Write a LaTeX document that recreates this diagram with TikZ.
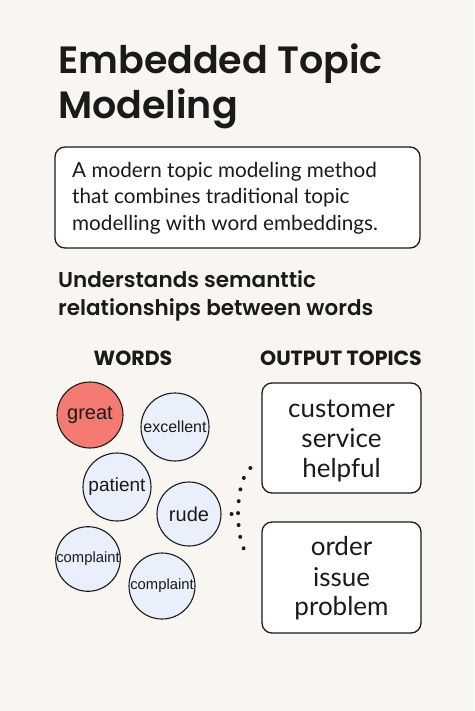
\documentclass[tikz,border=0pt]{standalone}
\usepackage{fontspec}
\setmainfont{Lato}
\newfontfamily\titlefont{Poppins}[BoldFont={Poppins SemiBold}]
\newfontfamily\headfont{Poppins}
\newfontfamily\arialf{Liberation Sans}
\usetikzlibrary{decorations.markings}
\definecolor{bg}{HTML}{F9F6F2}
\definecolor{salmon}{HTML}{F47A72}
\definecolor{pale}{HTML}{EAF0FB}
\definecolor{ink}{HTML}{1A1A1A}
\tikzset{
  titletxt/.style={anchor=base west, inner sep=0pt, text=ink, font=\titlefont\bfseries\fontsize{38}{44}\selectfont},
  subtxt/.style={anchor=base west, inner sep=0pt, text=ink, font=\titlefont\bfseries\fontsize{21.5}{26}\selectfont},
  headtxt/.style={anchor=base, inner sep=0pt, text=ink, font=\headfont\bfseries\fontsize{20.5}{24}\selectfont},
  bodytxt/.style={anchor=base west, inner sep=0pt, text=ink, font=\fontsize{20.7}{24}\selectfont},
  topictxt/.style={anchor=base, inner sep=0pt, text=ink, font=\fontsize{26}{30}\selectfont},
  panel/.style={draw=ink, line width=1.3pt, rounded corners=10pt, fill=white},
  word/.style={circle, draw=ink, line width=1.1pt, fill=pale, inner sep=0pt, text=ink, font=\arialf},
  dotline/.style={decoration={markings, mark=between positions 0 and 1 step 0.125 with {\fill[ink] (0,0) circle (2pt);}}, decorate},
}
\begin{document}
\begin{tikzpicture}[x=1pt,y=-1pt]
\fill[bg] (0,0) rectangle (474,711);
\useasboundingbox (0,0) rectangle (474,711);

\node[titletxt] (t1) at (58,74) {Embedded Topic};
\node[titletxt] (t2) at (58,119) {Modeling};

\draw[panel] (55,147) rectangle (420,248);
\node[bodytxt] (d1) at (72,178) {A modern topic modeling method};
\node[bodytxt] (d2) at (72,204) {that combines traditional topic};
\node[bodytxt] (d3) at (72,230) {modelling with word embeddings.};

\node[subtxt] (s1) at (58,287) {Understands semanttic};
\node[subtxt] (s2) at (58,315) {relationships between words};

\node[headtxt] (hw) at (133,365) {WORDS};
\node[headtxt] (ht) at (341,365) {OUTPUT TOPICS};

\node[word, fill=salmon, minimum size=66pt, font=\arialf\fontsize{20}{22}\selectfont] (great) at (90,415) {great};
\node[word, minimum size=68pt, font=\arialf\fontsize{16}{18}\selectfont] (excellent) at (175,427) {excellent};
\node[word, minimum size=68pt, font=\arialf\fontsize{19}{21}\selectfont] (patient) at (117,487) {patient};
\node[word, minimum size=64pt, font=\arialf\fontsize{20}{21}\selectfont] (rude) at (189,514) {rude};
\node[word, minimum size=64pt, font=\arialf\fontsize{14.8}{17}\selectfont] (c1) at (88,559) {complaint};
\node[word, minimum size=66pt, font=\arialf\fontsize{14.8}{17}\selectfont] (c2) at (162,586) {complaint};

\node[panel, minimum width=159pt, minimum height=110pt] (p1) at (341.5,438) {};
\node[topictxt] at (341.5,417) {customer};
\node[topictxt] at (341.5,447) {service};
\node[topictxt] at (341.5,477) {helpful};

\node[panel, minimum width=159pt, minimum height=111pt] (p2) at (341.5,577.5) {};
\node[topictxt] at (341.5,555) {order};
\node[topictxt] at (341.5,586) {issue};
\node[topictxt] at (341.5,615) {problem};

\coordinate (a1) at ([xshift=-11pt]p1.west |- 0,468);
\coordinate (a2) at ([xshift=-11pt]p2.west |- 0,558);
\path[dotline] (a1) .. controls (234,482) and (234,546) .. (a2);
\fill[ink] ([xshift=10pt]rude.east) circle (2pt);
\end{tikzpicture}
\end{document}
